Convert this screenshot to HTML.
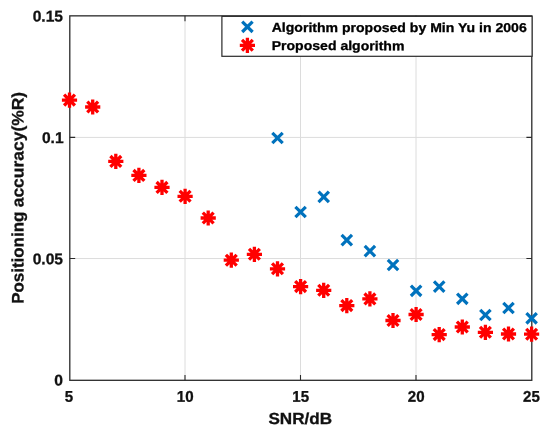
<!DOCTYPE html>
<html><head><meta charset="utf-8"><title>plot</title>
<style>
html,body{margin:0;padding:0;background:#fff;}
svg{display:block;}
text{font-family:"Liberation Sans",Arial,Helvetica,sans-serif;font-weight:bold;fill:#111;stroke:#111;stroke-width:0.3px;}
.tk{font-size:15.5px;}
.lb{font-size:16px;}
.lg{font-size:12.8px;fill:#000;stroke:#000;}
</style></head><body>
<svg width="550" height="434" viewBox="0 0 550 434">
<rect width="550" height="434" fill="#fff"/>
<defs>
<g id="st" stroke="#ff0000" stroke-width="3.3" stroke-linecap="butt"><path d="M-7.6 0H7.6M0 -7.6V7.6M-5.4 -5.4L5.4 5.4M-5.4 5.4L5.4 -5.4"/></g>
<g id="xm" stroke="#0072bd" stroke-width="3.2" stroke-linecap="butt"><path d="M-5.2 -5.2L5.2 5.2M-5.2 5.2L5.2 -5.2"/></g>
</defs>
<path d="M185.0 15.85V380.3M300.5 15.85V380.3M416.0 15.85V380.3M69.8 258.55H531.8M69.8 137.4H531.8" stroke="#dcdcdc" stroke-width="1" fill="none"/>
<rect x="69.8" y="15.85" width="462.00" height="364.45" fill="none" stroke="#2a2a2a" stroke-width="1.3"/>
<path d="M185.0 380.3v-5.4M185.0 15.85v5.4M300.5 380.3v-5.4M300.5 15.85v5.4M416.0 380.3v-5.4M416.0 15.85v5.4M69.8 258.55h5.4M531.8 258.55h-5.4M69.8 137.4h5.4M531.8 137.4h-5.4" stroke="#2a2a2a" stroke-width="1.1" fill="none"/>
<use href="#xm" x="277.5" y="138.0"/>
<use href="#xm" x="300.6" y="212.0"/>
<use href="#xm" x="323.7" y="196.9"/>
<use href="#xm" x="346.8" y="240.1"/>
<use href="#xm" x="369.9" y="251.1"/>
<use href="#xm" x="393.0" y="265.0"/>
<use href="#xm" x="416.1" y="290.8"/>
<use href="#xm" x="439.2" y="286.6"/>
<use href="#xm" x="462.3" y="298.8"/>
<use href="#xm" x="485.4" y="315.0"/>
<use href="#xm" x="508.5" y="308.0"/>
<use href="#xm" x="531.6" y="318.3"/>
<use href="#st" x="69.5" y="100.1"/>
<use href="#st" x="92.7" y="107.0"/>
<use href="#st" x="115.8" y="161.4"/>
<use href="#st" x="138.9" y="175.4"/>
<use href="#st" x="162.0" y="187.4"/>
<use href="#st" x="185.1" y="196.3"/>
<use href="#st" x="208.2" y="218.0"/>
<use href="#st" x="231.3" y="260.2"/>
<use href="#st" x="254.4" y="254.3"/>
<use href="#st" x="277.5" y="268.8"/>
<use href="#st" x="300.6" y="286.6"/>
<use href="#st" x="323.7" y="290.3"/>
<use href="#st" x="346.8" y="305.6"/>
<use href="#st" x="369.9" y="298.9"/>
<use href="#st" x="393.0" y="320.5"/>
<use href="#st" x="416.1" y="314.5"/>
<use href="#st" x="439.2" y="334.6"/>
<use href="#st" x="462.3" y="327.0"/>
<use href="#st" x="485.4" y="332.3"/>
<use href="#st" x="508.5" y="334.0"/>
<use href="#st" x="531.6" y="334.2"/>
<text class="tk" transform="translate(68.9 401.8) rotate(0.05) scale(0.975 1)" text-anchor="middle">5</text>
<text class="tk" transform="translate(185.2 401.8) rotate(0.05) scale(0.975 1)" text-anchor="middle">10</text>
<text class="tk" transform="translate(300.7 401.8) rotate(0.05) scale(0.975 1)" text-anchor="middle">15</text>
<text class="tk" transform="translate(416.2 401.8) rotate(0.05) scale(0.975 1)" text-anchor="middle">20</text>
<text class="tk" transform="translate(531.4 401.8) rotate(0.05) scale(0.975 1)" text-anchor="middle">25</text>
<text class="tk" transform="translate(63.0 385.40) rotate(0.05) scale(1.005 1)" text-anchor="end">0</text>
<text class="tk" transform="translate(63.0 264.20) rotate(0.05) scale(1.005 1)" text-anchor="end">0.05</text>
<text class="tk" transform="translate(63.6 143.05) rotate(0.05) scale(1.005 1)" text-anchor="end">0.1</text>
<text class="tk" transform="translate(63.0 21.50) rotate(0.05) scale(1.005 1)" text-anchor="end">0.15</text>
<text class="lb" transform="translate(300.2 424.1) rotate(0.05) scale(1.07 1)" text-anchor="middle">SNR/dB</text>
<text class="lb" style="font-size:16.7px" transform="translate(23.45 303.85) rotate(-89.95) scale(1.015 1)">Positioning</text>
<text class="lb" style="font-size:16.7px" transform="translate(23.45 207.3) rotate(-89.95) scale(1.046 1)">accuracy(%R)</text>
<rect x="221.9" y="16.35" width="310.2" height="39.95" fill="#fff" stroke="#2a2a2a" stroke-width="1.2"/>
<use href="#xm" x="247.4" y="26.8"/>
<use href="#st" x="247.4" y="45.3"/>
<text class="lg" transform="translate(271.7 31.85) rotate(0.05) scale(1.098 1)">Algorithm proposed by Min Yu in 2006</text>
<text class="lg" transform="translate(271.7 50.05) rotate(0.05) scale(1.098 1)">Proposed algorithm</text>
</svg></body></html>
